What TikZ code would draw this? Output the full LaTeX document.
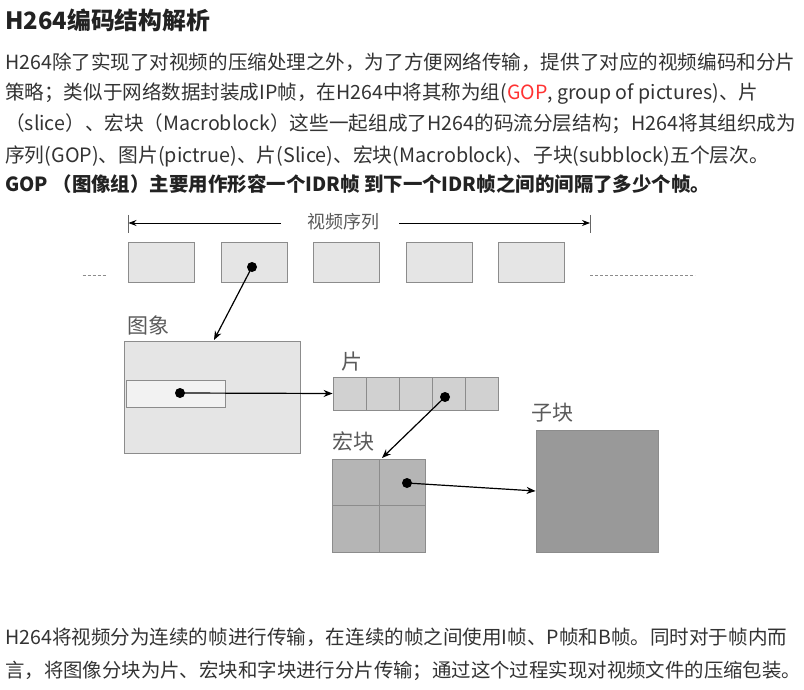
\documentclass[tikz,border=0pt]{standalone}
\usepackage{graphicx}
\usepackage{fontspec}
\setmainfont{Noto Sans CJK SC}
\usetikzlibrary{arrows.meta}
\definecolor{txt}{HTML}{333333}
\definecolor{ttl}{HTML}{222222}
\definecolor{gopred}{HTML}{FF3333}
\definecolor{lbl}{HTML}{5A5A5A}
\definecolor{bord}{HTML}{8C8C8C}
\newcommand\fitw[2]{\resizebox{#1pt}{!}{#2}}
\begin{document}
\begin{tikzpicture}[x=1pt,y=-1pt,
  line/.style={anchor=base west,inner sep=0pt,text=txt,font=\fontsize{20}{24}\selectfont},
  frame/.style={draw=bord,fill=black!10,minimum width=66,minimum height=40,inner sep=0pt,line width=0.8pt},
  cell/.style={draw=bord,fill=black!18,minimum width=33,minimum height=33,inner sep=0pt,line width=0.8pt},
  mbcell/.style={draw=bord,fill=black!29,minimum width=46.5,minimum height=46.5,inner sep=0pt,line width=0.8pt},
  dlabel/.style={text=lbl,inner sep=0pt,font=\fontsize{20}{22}\selectfont},
  dot/.style={circle,fill=black,minimum size=10,inner sep=0pt},
  conn/.style={-{Stealth[length=9pt,width=7pt]},line width=1.2pt},
  dashln/.style={draw=black!45,dash pattern=on 3pt off 2pt,line width=0.6pt}]
\useasboundingbox[fill=white] (0,0) rectangle (804,690);

% ---- text ----
\node[line,text=ttl,font=\fontsize{22.5}{26}\bfseries\selectfont] (title) at (5,29.5) {\fitw{205}{H264编码结构解析}};
\node[line] (l1) at (5,69.5) {\fitw{790}{H264除了实现了对视频的压缩处理之外，为了方便网络传输，提供了对应的视频编码和分片}};
\node[line] (l2) at (5,99.5) {\fitw{753}{策略；类似于网络数据封装成IP帧，在H264中将其称为组(\textcolor{gopred}{GOP}, group of pictures)、片}};
\node[line] (l3) at (5,130.5) {\fitw{791}{（slice）、宏块（Macroblock）这些一起组成了H264的码流分层结构；H264将其组织成为}};
\node[line] (l4) at (5,162.5) {\fitw{764}{序列(GOP)、图片(pictrue)、片(Slice)、宏块(Macroblock)、子块(subblock)五个层次。}};
\node[line,text=ttl,font=\fontsize{20}{24}\bfseries\selectfont] (l5) at (5,191.5) {\fitw{705}{GOP （图像组）主要用作形容一个IDR帧 到下一个IDR帧之间的间隔了多少个帧。}};
\node[line] (b1) at (5,644.5) {\fitw{782}{H264将视频分为连续的帧进行传输，在连续的帧之间使用I帧、P帧和B帧。同时对于帧内而}};
\node[line] (b2) at (5,677.5) {\fitw{796}{言，将图像分块为片、宏块和字块进行分片传输；通过这个过程实现对视频文件的压缩包装。}};

% ---- video sequence ----
\node[dlabel,font=\fontsize{18}{20}\selectfont] (seq) at (343.5,222) {视频序列};
\coordinate (tl) at (128.5,223);
\coordinate (tr) at (590,223);
\coordinate (sl1) at (281,223);
\coordinate (sr1) at (399,223);
\draw[line width=0.6pt,black!60] (128.5,215) -- (128.5,233);
\draw[line width=0.6pt,black!60] (590,215) -- (590,233);
\draw[-{Stealth[length=8pt,width=6pt]},line width=0.8pt] (sl1) -- (tl);
\draw[-{Stealth[length=8pt,width=6pt]},line width=0.8pt] (sr1) -- (tr);

\node[frame] (f1) at (161.5,262) {};
\node[frame] (f2) at (254,262) {};
\node[frame] (f3) at (346,262) {};
\node[frame] (f4) at (439,262) {};
\node[frame] (f5) at (531,262) {};
\coordinate (dl0) at (82.5,275);
\coordinate (dl1) at (107,275);
\coordinate (dr0) at (590,275);
\coordinate (dr1) at (695,275);
\draw[dashln] (dl0) -- (dl1);
\draw[dashln] (dr0) -- (dr1);

% ---- picture ----
\node[dlabel,font=\fontsize{21}{22}\selectfont] (picl) at (148,325) {图象};
\node[draw=bord,fill=black!10,minimum width=176,minimum height=112,inner sep=0pt,line width=0.8pt] (pic) at (212,397) {};
\node[draw=bord,fill=black!5,minimum width=99,minimum height=27,inner sep=0pt,line width=0.8pt] (slc) at (175.5,393.5) {};

% ---- slice ----
\node[dlabel,font=\fontsize{21}{22}\selectfont] (slabel) at (352,362) {片};
\node[cell] (c1) at (349.5,393.5) {};
\node[cell] (c2) at (382.5,393.5) {};
\node[cell] (c3) at (415.5,393.5) {};
\node[cell] (c4) at (448.5,393.5) {};
\node[cell] (c5) at (481.5,393.5) {};

% ---- macroblock ----
\node[dlabel,font=\fontsize{21}{22}\selectfont] (mblabel) at (353,441) {宏块};
\node[mbcell] (m1) at (356,482.5) {};
\node[mbcell] (m2) at (402.5,482.5) {};
\node[mbcell] (m3) at (356,529) {};
\node[mbcell] (m4) at (402.5,529) {};

% ---- subblock ----
\node[dlabel,font=\fontsize{21}{22}\selectfont] (sblabel) at (552,413) {子块};
\node[draw=bord,fill=black!40,minimum width=122,minimum height=122,inner sep=0pt,line width=0.8pt] (sb) at (597,491) {};

% ---- dots and arrows ----
\node[dot] (d1) at (252,267) {};
\node[dot] (d2) at (180,393) {};
\node[dot] (d3) at (445,397) {};
\node[dot] (d4) at (407,483) {};
\coordinate (pictop) at (214,340);
\coordinate (mbtop) at (382,458);
\draw[conn] (d1.center) -- (pictop);
\draw[conn] (d2.center) -- (c1.west);
\draw[conn] (d3.center) -- (mbtop);
\draw[conn] (d4.center) -- (sb.west);
\end{tikzpicture}
\end{document}
